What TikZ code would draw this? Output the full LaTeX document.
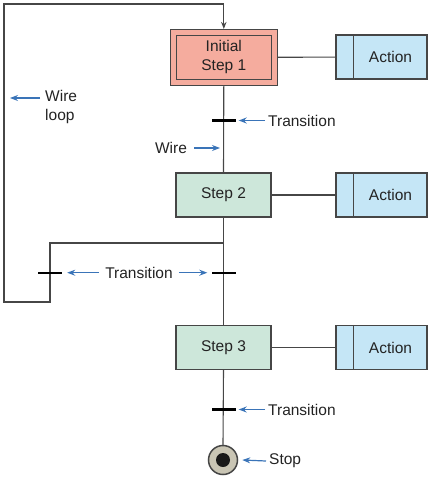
\documentclass[tikz,border=0pt]{standalone}
\usepackage{fontspec}
\setmainfont{Liberation Sans}
\usetikzlibrary{arrows.meta}

\definecolor{stepred}{RGB}{245,172,158}
\definecolor{stepgreen}{RGB}{205,231,218}
\definecolor{actblue}{RGB}{197,230,246}
\definecolor{linegray}{RGB}{70,70,70}
\definecolor{notblue}{RGB}{58,116,184}
\definecolor{textgray}{RGB}{35,35,35}
\definecolor{stopgray}{RGB}{201,197,180}

\begin{document}
\begin{tikzpicture}[x=1pt, y=-1pt,
    font=\fontsize{15.5}{19}\selectfont, text=textgray,
    stepbox/.style={draw=linegray, line width=1.3pt, fill=stepgreen,
        minimum width=95pt, minimum height=44pt, inner sep=0pt},
    actbox/.style={draw=linegray, line width=1.3pt, fill=actblue,
        minimum width=91pt, minimum height=44pt, inner sep=0pt},
    wire/.style={draw=linegray, line width=1.1pt},
    transbar/.style={fill=black, minimum width=24pt, minimum height=2.4pt, inner sep=0pt},
    note/.style={draw=notblue, line width=1.2pt, -{Stealth[length=8pt,width=6pt]}},
    lbl/.style={inner sep=3pt}]
    \useasboundingbox (0,0) rectangle (433,479);

    % Steps
    \node[stepbox, fill=stepred, double=stepred, double distance=4.5pt,
        minimum width=101pt, minimum height=50pt, outer sep=3.5pt, align=center]
        (step1) at (223.8,57.4) {Initial\\Step 1};
    \node[stepbox] (step2) at (223.5,195) {Step 2};
    \node[stepbox] (step3) at (223.5,347.5) {Step 3};

    % Actions
    \node[actbox] (act1) at (381.5,57) {\hspace*{18pt}Action};
    \node[actbox] (act2) at (381.5,195) {\hspace*{18pt}Action};
    \node[actbox] (act3) at (381.5,347.5) {\hspace*{18pt}Action};
    \foreach \n in {1,2,3}
        \draw[linegray, line width=1.3pt] ([xshift=18pt]act\n.north west) -- ([xshift=18pt]act\n.south west);

    % Stop
    \node[circle, draw=linegray, line width=1.5pt, fill=stopgray, minimum size=29pt, inner sep=0pt]
        (stop) at (223,460) {};
    \node[circle, fill=black!90, minimum size=14pt, inner sep=0pt] (stopdot) at (stop.center) {};

    % Wires
    \coordinate (branch) at (223,243);
    \coordinate (loopbot) at (50,302);
    \coordinate (loopturn) at (4,302);
    \coordinate (looptop) at (4,4);
    \draw[wire] (step1) -- (act1);
    \draw[wire] (step2) -- (act2);
    \draw[wire] (step3) -- (act3);
    \draw[wire] (step1.south) -- (step2.north);
    \draw[wire] (step2.south) -- (step3.north);
    \draw[wire] (step3.south) -- (stop.north);
    \draw[wire, -{Stealth[length=7pt,width=5.5pt]}] (branch) -| (loopbot) -- (loopturn) -- (looptop) -| (step1.north);

    % Transitions
    \node[transbar] (t1) at (223.5,120.5) {};
    \node[transbar] (t2l) at (50,272.7) {};
    \node[transbar] (t2r) at (223.5,272.7) {};
    \node[transbar] (t3) at (223.5,409.5) {};

    % Labels
    \node[lbl, anchor=west] (tlbl1) at (265,120.5) {Transition};
    \node[lbl] (tlbl2) at (139,272.7) {Transition};
    \node[lbl, anchor=west] (tlbl3) at (265,409.5) {Transition};
    \node[lbl, anchor=west] (stoplbl) at (266,461) {Stop};
    \node[lbl] (wirelbl) at (171,148) {Wire};
    \node[lbl, anchor=north west, align=left] (wireloop) at (42,87) {Wire\\loop};
    \coordinate (wirept) at (223,148);
    \coordinate (loopmark) at (4,98);

    % Pointers
    \draw[note] (tlbl1.west) -- ([xshift=3pt]t1.east);
    \draw[note] (tlbl3.west) -- ([xshift=3pt]t3.east);
    \draw[note] ([xshift=-3pt]tlbl2.west) -- ([xshift=5pt]t2l.east);
    \draw[note] ([xshift=3pt]tlbl2.east) -- ([xshift=-4pt]t2r.west);
    \draw[note] (stoplbl.west) -- ([xshift=4pt]stop.east);
    \draw[note] ([xshift=4pt]wirelbl.east) -- ([xshift=-3pt]wirept);
    \draw[note] ([xshift=-2pt]wireloop.west |- loopmark) -- ([xshift=6pt]loopmark);
\end{tikzpicture}
\end{document}
